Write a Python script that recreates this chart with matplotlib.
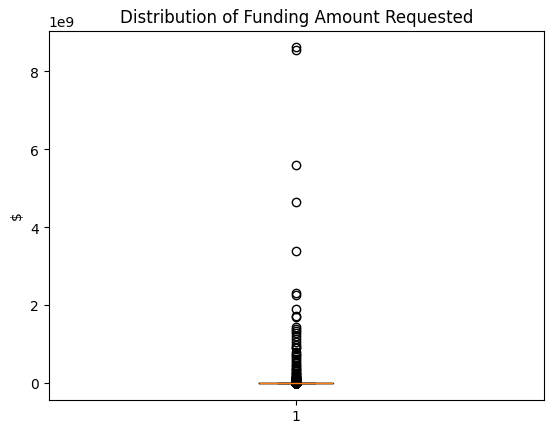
import matplotlib
matplotlib.use("Agg")
import matplotlib.pyplot as plt
import numpy as np

# Typical funding requests (USD) and how many projects requested each amount
typical_amounts = [0, 5e4, 1e5, 2.5e5, 5e5, 1e6, 2e6, 5e6, 1e7, 2e7, 4e7]
typical_counts = [1600, 40, 40, 35, 30, 30, 25, 20, 15, 10, 8]

# Large outlying requests (USD)
large_requests = [
    8.62e9, 8.56e9, 5.59e9, 4.64e9, 3.38e9, 2.31e9, 2.25e9, 1.90e9, 1.72e9,
    1.68e9, 1.42e9, 1.38e9, 1.33e9, 1.28e9, 1.20e9, 1.12e9, 1.05e9, 0.98e9,
    0.93e9, 0.88e9, 0.80e9, 0.74e9, 0.70e9, 0.65e9, 0.60e9, 0.55e9, 0.50e9,
    0.46e9, 0.42e9, 0.38e9, 0.35e9, 0.32e9, 0.29e9, 0.26e9, 0.24e9, 0.22e9,
    0.20e9, 0.18e9, 0.16e9, 0.15e9, 0.14e9, 0.13e9, 0.12e9, 0.11e9,
    0.10e9, 0.095e9, 0.09e9, 0.085e9, 0.08e9, 0.075e9, 0.07e9, 0.065e9,
    0.06e9, 0.055e9, 0.05e9, 0.045e9,
]

funding_requested = np.concatenate(
    [np.repeat(typical_amounts, typical_counts), large_requests]
)

fig = plt.figure(figsize=(5.54, 4.35), dpi=100)
ax = fig.add_axes([48.5 / 554, 34.5 / 435, 495.5 / 554, 369 / 435])
ax.boxplot(funding_requested)
ax.set_title("Distribution of Funding Amount Requested")
ax.set_ylabel("$")
fig.savefig("out.png", dpi=100)
